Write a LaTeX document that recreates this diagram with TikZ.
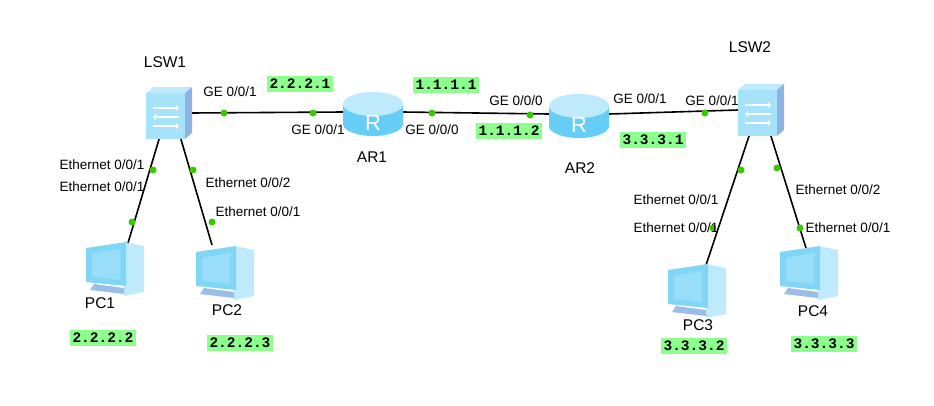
\documentclass[tikz,border=0pt]{standalone}
\usepackage{fontspec}
\setmainfont{Liberation Sans}
\newfontfamily\monof{Liberation Mono}
\begin{document}
\begin{tikzpicture}[x=1pt,y=-1pt,
 lbl/.style={font=\fontsize{13.5}{14}\selectfont,inner sep=0pt},
 ip/.style={font=\monof\bfseries\fontsize{14.5}{15}\selectfont,fill=green!45,inner sep=3pt},
 dev/.style={font=\fontsize{15.5}{16}\selectfont,inner sep=0pt},
 lnk/.style={line width=1.6pt},
 dot/.style={circle,fill=green!70!black!70!lime,draw=none,minimum size=7pt,inner sep=0pt},
 sw/.style={minimum width=44pt,minimum height=48pt,inner sep=0pt},
 rt/.style={minimum width=60pt,minimum height=44pt,inner sep=0pt},
 pc/.style={minimum width=60pt,minimum height=50pt,inner sep=0pt}]
\useasboundingbox (0,0) rectangle (934,405);
\tikzset{
 swicon/.pic={
  \fill[cyan!25] (-22,-20) -- (-15,-26) -- (24,-26) -- (17,-20) -- cycle;
  \fill[cyan!55!blue!45] (17,-20) -- (24,-26) -- (24,20) -- (17,26) -- cycle;
  \fill[cyan!35] (-22,-20) rectangle (17,26);
  \draw[white,line width=1.2pt,->] (-15,-5) -- (11,-5);
  \draw[white,line width=1.2pt,<-] (-15,4) -- (11,4);
  \draw[white,line width=1.2pt,->] (-15,13) -- (11,13);},
 rticon/.pic={
  \fill[cyan!60] (-30,-8) -- (-30,12) arc[start angle=180,end angle=0,x radius=30,y radius=12] -- (30,-8) -- cycle;
  \fill[cyan!25] (0,-8) ellipse[x radius=30,y radius=12];
  \node[white,font=\fontsize{22}{22}\selectfont] at (0,11) {R};},
 pcicon/.pic={
  \fill[cyan!25] (6,-26) -- (26,-22) -- (26,24) -- (6,28) -- cycle;
  \fill[cyan!50] (-32,-20) -- (8,-26) -- (8,18) -- (-32,14) -- cycle;
  \fill[white!60!cyan] (-26,-14) -- (2,-19) -- (2,12) -- (-26,9) -- cycle;
  \fill[cyan!60!blue!40] (-24,16) -- (6,20) -- (6,26) -- (-28,22) -- cycle;}
}
\node[sw] (lsw1) at (168,113) {};
\node[sw] (lsw2) at (760,110) {};
\node[rt] (ar1) at (373,112) {};
\node[rt] (ar2) at (579,114) {};
\node[pc] (pc1) at (118,268) {};
\node[pc] (pc2) at (228,272) {};
\node[pc] (pc3) at (700,290) {};
\node[pc] (pc4) at (812,272) {};
\coordinate (a1) at (160,136); \coordinate (a2) at (128,243);
\coordinate (b1) at (180,136); \coordinate (b2) at (212,245);
\coordinate (c1) at (750,133); \coordinate (c2) at (706,265);
\coordinate (d1) at (770,133); \coordinate (d2) at (806,248);
\draw[lnk] (lsw1.east) -- (ar1.west);
\draw[lnk] (ar1.east) -- (ar2.west);
\draw[lnk] (ar2.east) -- (lsw2.west);
\draw[lnk] (a1) -- (a2);
\draw[lnk] (b1) -- (b2);
\draw[lnk] (c1) -- (c2);
\draw[lnk] (d1) -- (d2);
\pic at (lsw1) {swicon}; \pic at (lsw2) {swicon};
\pic at (ar1) {rticon}; \pic at (ar2) {rticon};
\pic at (pc1) {pcicon}; \pic at (pc2) {pcicon};
\pic at (pc3) {pcicon}; \pic at (pc4) {pcicon};
\foreach \p in {(224,113),(313,113),(432,113),(530,115),(705,113),(153,170),(193,170),(132,222),(212,222),(741,170),(713,228),(777,168),(800,228)} \node[dot] at \p {};
\node[dev] at (165,62) {LSW1};
\node[dev] at (750,47) {LSW2};
\node[dev] at (372,157) {AR1};
\node[dev] at (580,168) {AR2};
\node[dev] at (100,303) {PC1};
\node[dev] at (227,310) {PC2};
\node[dev] at (698,325) {PC3};
\node[dev] at (813,311) {PC4};
\node[lbl] at (230,92) {GE 0/0/1};
\node[lbl] at (318,130) {GE 0/0/1};
\node[lbl] at (432,130) {GE 0/0/0};
\node[lbl] at (516,101) {GE 0/0/0};
\node[lbl] at (640,99) {GE 0/0/1};
\node[lbl] at (712,101) {GE 0/0/1};
\node[lbl] at (102,165) {Ethernet 0/0/1};
\node[lbl] at (102,187) {Ethernet 0/0/1};
\node[lbl] at (248,183) {Ethernet 0/0/2};
\node[lbl] at (258,212) {Ethernet 0/0/1};
\node[lbl] at (676,200) {Ethernet 0/0/1};
\node[lbl] at (676,228) {Ethernet 0/0/1};
\node[lbl] at (838,190) {Ethernet 0/0/2};
\node[lbl] at (848,228) {Ethernet 0/0/1};
\node[ip] at (300,84) {2.2.2.1};
\node[ip] at (446,85) {1.1.1.1};
\node[ip] at (509,131) {1.1.1.2};
\node[ip] at (653,140) {3.3.3.1};
\node[ip] at (103,338) {2.2.2.2};
\node[ip] at (240,343) {2.2.2.3};
\node[ip] at (694,346) {3.3.3.2};
\node[ip] at (824,344) {3.3.3.3};
\end{tikzpicture}
\end{document}
